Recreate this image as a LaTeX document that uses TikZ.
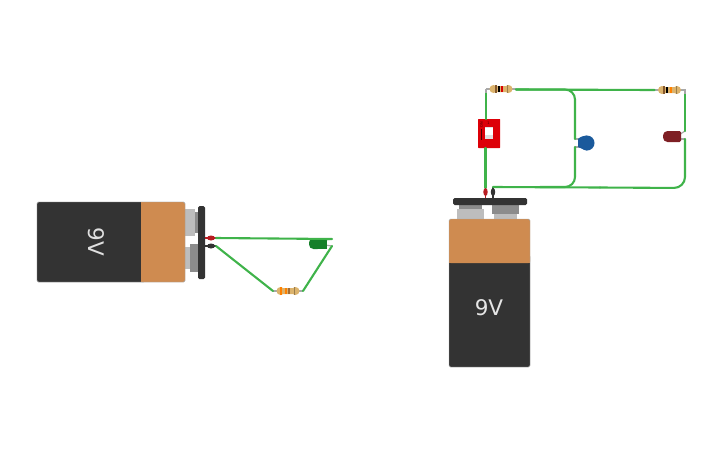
\documentclass[tikz,border=0pt]{standalone}
\usepackage{fontspec}
\setmainfont{DejaVu Sans}
\definecolor{wire}{HTML}{3FB34A}
\definecolor{batdark}{HTML}{333333}
\definecolor{copper}{HTML}{CF8B50}
\definecolor{termlight}{HTML}{BDBDBD}
\definecolor{termdark}{HTML}{8C8C8C}
\definecolor{leadgray}{HTML}{A8A8A8}
\definecolor{resbody}{HTML}{DCB36C}
\definecolor{sw}{HTML}{DD0008}
\definecolor{redlead}{HTML}{B81C22}
\definecolor{ledblue}{HTML}{1B5A9C}
\definecolor{ledred}{HTML}{7E1F24}
\definecolor{ledgreen}{HTML}{16802A}
\tikzset{
  wirepath/.style={draw=wire,line width=2.1pt,line join=round,line cap=round},
  legpath/.style={draw=leadgray,line width=1.2pt},
  bfill/.style={inner sep=0pt,outer sep=0pt,minimum width=0pt},
  batedge/.style={draw=black!35,line width=0.4pt},
}
% resistor: name, centre x, y, band colours 1-4, band offset of the first band
\newcommand{\resistorpart}[8]{%
  \coordinate (#1L) at (#2-15,#3);
  \coordinate (#1R) at (#2+15,#3);
  \draw[legpath] (#1L) -- (#1R);
  \fill[resbody,rounded corners=2.5pt] (#2-10,#3-3) rectangle (#2+10,#3+3);
  \fill[resbody] (#2-7.5,#3) circle (4pt) (#2+7.5,#3) circle (4pt);
  \fill[#4] (#2+#8,#3-3.6) rectangle (#2+#8+2.2,#3+3.6);
  \fill[#5] (#2-3.5,#3-3.2) rectangle (#2-1.3,#3+3.2);
  \fill[#6] (#2+0,#3-3.2) rectangle (#2+2.2,#3+3.2);
  \fill[#7] (#2+6,#3-3.6) rectangle (#2+7,#3+3.6);
}
\begin{document}
\begin{tikzpicture}[x=1pt,y=-1pt]
\useasboundingbox (0,0) rectangle (725,453);

% ---- left battery
\fill[termlight] (185,209) rectangle (195,236);
\fill[termdark] (195,212) rectangle (198,233);
\fill[termlight] (185,247) rectangle (190,269);
\fill[termdark] (190,244) rectangle (198,272);
\path[batedge,rounded corners=1.5pt] (37,202) rectangle (185,282);
\fill[batdark,rounded corners=1.5pt] (37,202) rectangle (145,282);
\fill[copper,rounded corners=1.5pt] (141,202) rectangle (185,282);
\fill[copper] (141,202) rectangle (150,282);
\draw[batedge,rounded corners=1.5pt] (37,202) rectangle (185,282);
\node[text=white!88!black,font=\fontsize{21.5}{21.5}\selectfont,rotate=-90,bfill] (leftlabel) at (96,242) {9V};
\fill[batdark,rounded corners=1.5pt] (198,206) rectangle (205,279);
\coordinate (lredend) at (216,238);
\coordinate (lblackend) at (216,246);
\draw[redlead,line width=1.2pt] (205,238) -- (lredend);
\draw[batdark,line width=1.2pt] (205,246) -- (lblackend);

% ---- green LED
\coordinate (gA) at (332,239);
\coordinate (gB) at (332,246);
\draw[legpath] (325,240) -- (gA);
\draw[legpath] (325,245) -- (gB);
\fill[ledgreen,rounded corners=4.5pt] (309,238) rectangle (322,249);
\fill[ledgreen] (318,238) rectangle (327,248.5);

% ---- left resistor
\resistorpart{ra}{288}{291}{orange}{orange}{brown!85!black}{resbody!70!black}{-8.5}
\coordinate (raLw) at (273,291);
\coordinate (raRw) at (303,291);

\draw[wirepath] (lredend) -- (gA);
\draw[wirepath] (lblackend) -- (raLw);
\draw[wirepath] (raRw) -- (gB);
\fill[redlead] (211,238) ellipse (4pt and 2.5pt);
\fill[batdark] (211,246) ellipse (4pt and 2.5pt);

% ---- right battery
\fill[termdark] (459,205) rectangle (482,209);
\fill[termlight] (457,209) rectangle (484,219);
\fill[termdark] (492,205) rectangle (519,214);
\fill[termlight] (494,214) rectangle (517,219);
\fill[batdark,rounded corners=1.5pt] (449,255) rectangle (530,367);
\fill[copper,rounded corners=1.5pt] (449,219) rectangle (530,263);
\fill[copper] (449,255) rectangle (530,263);
\draw[batedge,rounded corners=1.5pt] (449,219) rectangle (530,367);
\node[text=white!90!black,font=\fontsize{21.5}{21.5}\selectfont,bfill] (rightlabel) at (489,307.5) {9V};
\fill[batdark,rounded corners=1.5pt] (453,198) rectangle (527,205);
\coordinate (rred) at (485.5,188);
\coordinate (rblack) at (493,187);
\draw[redlead,line width=1.2pt] (485.5,198) -- (rred);
\draw[batdark,line width=1.2pt] (493,198) -- (rblack);

% ---- switch
\node[fill=sw,minimum width=22pt,minimum height=29pt,inner sep=0pt,rounded corners=0.5pt] (switch) at (489,133.5) {};
\fill[white!88!black] (485,127) rectangle (493,139);
\fill[white] (485,128) rectangle (493,135);
\draw[black!70!red,line width=0.25pt] (481.5,129) -- (481.5,140);
\node[font=\fontsize{3.5}{3.5}\selectfont,rotate=90,text=black!70!red,bfill] (onlabel) at (481.5,124.5) {ON};
\node[font=\fontsize{3.5}{3.5}\selectfont,text=black!70!red,bfill] (onelabel) at (488.5,123.5) {1};

% ---- resistors on the right
\resistorpart{rb}{501}{89}{brown!70!black}{black}{red!85!black}{resbody!70!black}{-6.5}
\resistorpart{rc}{669.5}{90}{brown!70!black}{black}{orange}{resbody!70!black}{-6.5}
\coordinate (rbCorner) at (486,89);
\coordinate (rbDown) at (486,93);
\coordinate (rbRw) at (516,89.5);
\coordinate (rcCorner) at (685,90);
\coordinate (rcDown) at (685,94);
\coordinate (swN) at (486,119);
\coordinate (swS) at (485.5,148);

% ---- blue component
\coordinate (blA) at (575,139);
\coordinate (blB) at (575,147);
\draw[legpath] (blA) -- (582,139);
\draw[legpath] (blB) -- (582,147);
\fill[ledblue] (587,143) circle (7.5pt);
\fill[ledblue] (578,139) .. controls (581,136) and (584,136) .. (587,135.5) -- (587,150.5) .. controls (584,150) and (581,148) .. (578,147) -- cycle;

% ---- red LED
\coordinate (reA) at (685,131);
\coordinate (reB) at (685,139);
\draw[legpath] (679,135) -- (reA);
\draw[legpath] (679,139) -- (reB);
\fill[ledred,rounded corners=4.5pt] (663,131) rectangle (675,142);
\fill[ledred,rounded corners=1.5pt] (669,131) rectangle (681,142);

% ---- right wires
\draw[wirepath] (swS) -- (rred);
\draw[wirepath] (swN) -- (rbDown);
\draw[legpath] (rbDown) -- (rbCorner) -- (rbL);
\draw[wirepath] (rbRw) -- (rcL);
\draw[wirepath,rounded corners=10pt] (rbRw) -- (575,89.5) -- (blA);
\draw[wirepath] (rcDown) -- (reA);
\draw[legpath] (rcR) -- (rcCorner) -- (rcDown);
\draw[wirepath,rounded corners=11pt] (reB) -- (685,188) -- (600,187.5);
\draw[wirepath] (600,187.5) -- (rblack);
\draw[wirepath,rounded corners=10pt] (blB) -- (575,187) -- (540,187);
\fill[redlead] (485.5,192) ellipse (2.2pt and 4pt);
\fill[batdark] (493,192) ellipse (2.2pt and 4pt);
\end{tikzpicture}
\end{document}
